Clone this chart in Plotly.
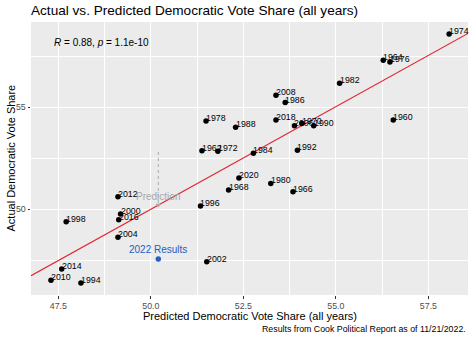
import numpy as np
import plotly.graph_objects as go

# ---- data ----
years = [1974, 1964, 1976, 1982, 2008, 1986, 1960, 2018, 2006, 1970, 1990, 1984, 1992,
         1978, 1988, 1962, 1972, 2020, 1980, 1966, 1968, 1996, 2012, 2000, 2016, 1998,
         2004, 2002, 2014, 2010, 1994]
predicted = [58.06, 56.28, 56.46, 55.10, 53.38, 53.63, 56.55, 53.38, 53.88, 54.08, 54.40, 52.77, 53.96,
             51.49, 52.29, 51.38, 51.81, 52.38, 53.24, 53.84, 52.10, 51.34, 49.11, 49.18, 49.13, 47.71,
             49.11, 51.51, 47.59, 47.30, 48.11]
actual = [58.59, 57.30, 57.22, 56.18, 55.59, 55.23, 54.38, 54.38, 54.10, 54.20, 54.10, 52.75, 52.89,
          54.33, 54.02, 52.87, 52.84, 51.53, 51.27, 50.86, 50.95, 50.16, 50.62, 49.77, 49.49, 49.39,
          48.63, 47.43, 47.07, 46.52, 46.39]

pred_2022 = 50.2
result_2022 = 47.56
prediction_arrow_top = 52.81

x_range = [46.76, 58.57]
y_range = [45.80, 59.18]
x_ticks = [47.5, 50.0, 52.5, 55.0, 57.5]
x_ticklabels = ["47.5", "50.0", "52.5", "55.0", "57.5"]
y_ticks = [50, 55]
y_ticklabels = ["50", "55"]

FONT = "Liberation Sans, Arial, Helvetica, sans-serif"

# regression line (least squares), drawn across the full panel
slope, intercept = np.polyfit(predicted, actual, 1)
fit_x = np.array(x_range)
fit_y = slope * fit_x + intercept
pred_on_line = slope * pred_2022 + intercept

fig = go.Figure()

fig.add_trace(go.Scatter(x=fit_x, y=fit_y, mode="lines",
                         line=dict(color="#E3222E", width=1.1), hoverinfo="skip"))

# prediction dotted segment
fig.add_trace(go.Scatter(x=[pred_2022, pred_2022], y=[prediction_arrow_top, pred_on_line],
                         mode="lines", line=dict(color="#A8A8A8", width=1, dash="dot"),
                         hoverinfo="skip"))
fig.add_trace(go.Scatter(x=[pred_2022], y=[pred_on_line], mode="markers",
                         marker=dict(symbol="triangle-down", size=5, color="#A8A8A8"),
                         hoverinfo="skip"))

fig.add_trace(go.Scatter(x=predicted, y=actual, mode="markers",
                         marker=dict(color="black", size=5.5), hoverinfo="skip"))

fig.add_trace(go.Scatter(x=[pred_2022], y=[result_2022], mode="markers",
                         marker=dict(color="#2460BF", size=5.5), hoverinfo="skip"))

annotations = []
for yr, xv, yv in zip(years, predicted, actual):
    annotations.append(dict(x=xv, y=yv, text=str(yr), showarrow=False, xanchor="left",
                            yanchor="middle", xshift=-2, yshift=3,
                            font=dict(family=FONT, size=8.8, color="black")))

annotations.append(dict(x=pred_2022, y=pred_on_line, text="Prediction", showarrow=False,
                        xanchor="center", yanchor="middle", yshift=9,
                        font=dict(family=FONT, size=10, color="#A8A8A8")))
annotations.append(dict(x=pred_2022, y=result_2022, text="2022 Results", showarrow=False,
                        xanchor="center", yanchor="middle", yshift=10,
                        font=dict(family=FONT, size=10, color="#2460BF")))
annotations.append(dict(x=47.32, y=58.19, text="<i>R</i> = 0.88, <i>p</i> = 1.1e-10",
                        showarrow=False, xanchor="left", yanchor="middle",
                        font=dict(family=FONT, size=10, color="black")))
# axis titles and caption
annotations.append(dict(x=0.5, y=-(316 - 295) / 273, xref="paper", yref="paper",
                        xanchor="center", yanchor="middle",
                        text="Predicted Democratic Vote Share (all years)", showarrow=False,
                        font=dict(family=FONT, size=11, color="black")))
annotations.append(dict(x=-(31 - 10) / 437, y=0.5, xref="paper", yref="paper",
                        xanchor="center", yanchor="middle", textangle=-90,
                        text="Actual Democratic Vote Share", showarrow=False,
                        font=dict(family=FONT, size=11, color="black")))
annotations.append(dict(x=1, y=-(329 - 295) / 273, xref="paper", yref="paper",
                        xanchor="right", yanchor="middle",
                        text="Results from Cook Political Report as of 11/21/2022.", showarrow=False,
                        font=dict(family=FONT, size=8.8, color="black")))

fig.update_layout(
    width=474, height=338,
    margin=dict(l=31, r=6, t=22, b=43),
    paper_bgcolor="white", plot_bgcolor="#EBEBEB",
    showlegend=False,
    font=dict(family=FONT, color="black"),
    title=dict(text="Actual vs. Predicted Democratic Vote Share (all years)",
               x=31 / 474, xanchor="left", y=1 - 10.5 / 338, yanchor="middle",
               font=dict(family=FONT, size=13.6, color="black")),
    annotations=annotations,
)

fig.update_xaxes(range=x_range, tickvals=x_ticks, ticktext=x_ticklabels,
                 showgrid=True, gridcolor="white", gridwidth=1.1, zeroline=False,
                 ticks="outside", ticklen=2.5, tickcolor="#333333", tickwidth=1,
                 tickfont=dict(family=FONT, size=8.8, color="#4D4D4D"),
                 minor=dict(tickvals=[48.75, 51.25, 53.75, 56.25], showgrid=True,
                            gridcolor="white", gridwidth=0.5, ticks=""),
                 showline=False)
fig.update_yaxes(range=y_range, tickvals=y_ticks, ticktext=y_ticklabels,
                 showgrid=True, gridcolor="white", gridwidth=1.1, zeroline=False,
                 ticks="outside", ticklen=2.5, tickcolor="#333333", tickwidth=1,
                 tickfont=dict(family=FONT, size=8.8, color="#4D4D4D"),
                 minor=dict(tickvals=[47.5, 52.5, 57.5], showgrid=True,
                            gridcolor="white", gridwidth=0.5, ticks=""),
                 showline=False)

fig.write_html("out.html")
